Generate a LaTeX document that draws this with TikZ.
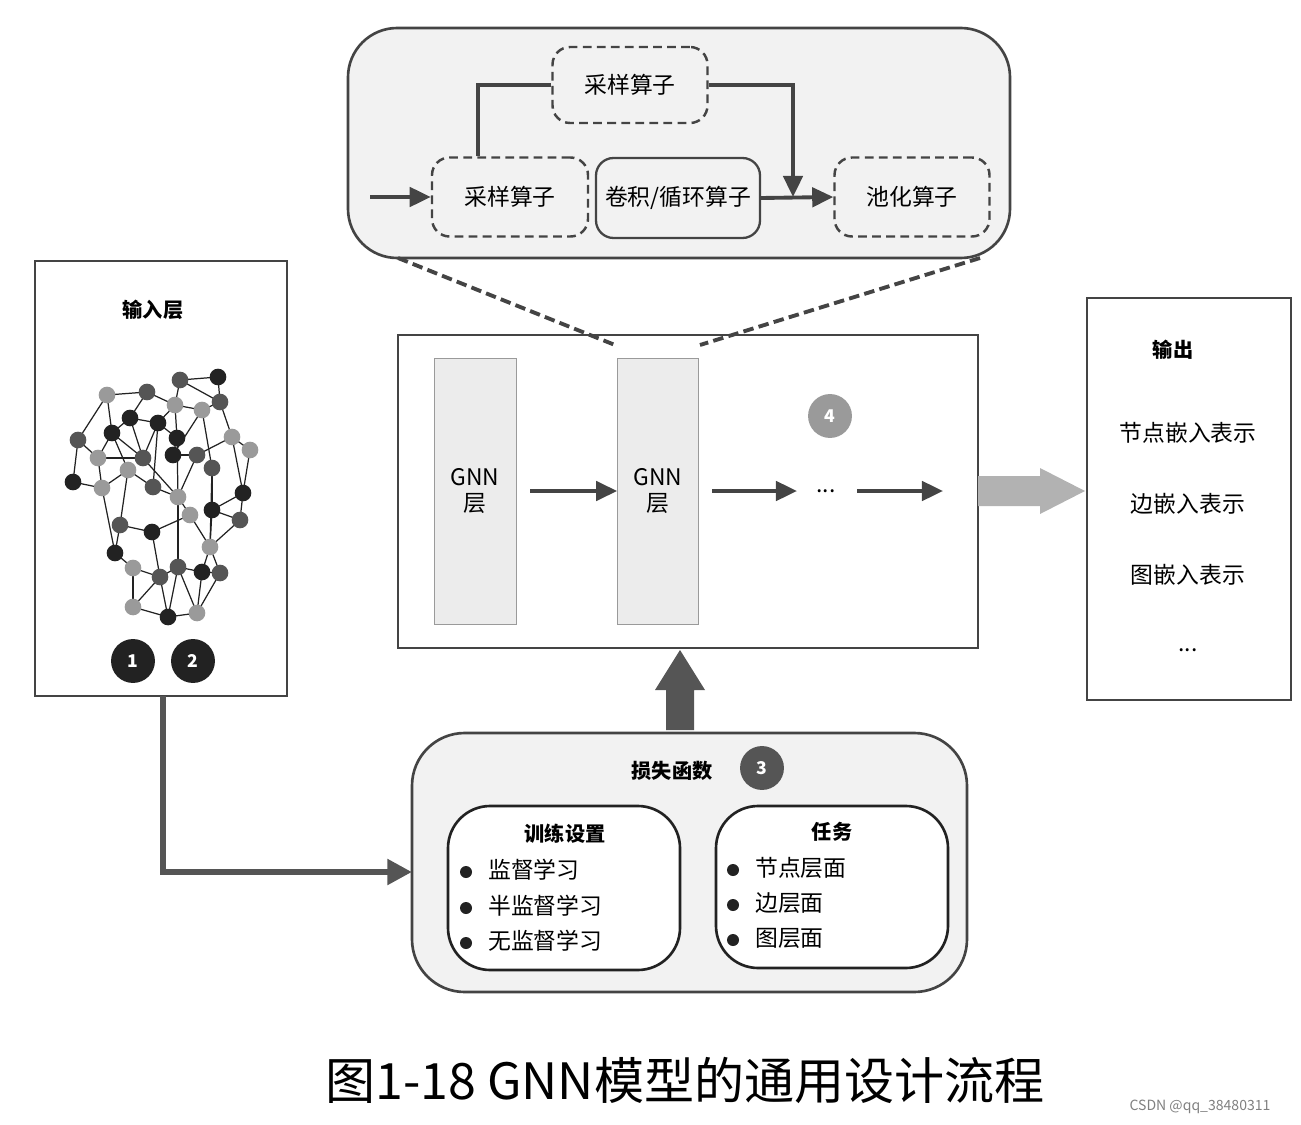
\documentclass[tikz,border=0pt]{standalone}
\usepackage{fontspec}
\setmainfont{Noto Sans CJK SC}
\usetikzlibrary{arrows.meta}
\definecolor{dk}{HTML}{222222}
\definecolor{md}{HTML}{555555}
\definecolor{lt}{HTML}{9A9A9A}
\definecolor{bx}{HTML}{F2F2F2}
\definecolor{ln}{HTML}{444444}
\begin{document}
\begin{tikzpicture}[x=0.02cm,y=-0.02cm,
  lbl/.style={font=\fontsize{13}{15}\selectfont},
  ttl/.style={font=\bfseries\fontsize{11.5}{14}\selectfont},
  dbox/.style={draw=ln,dash pattern=on 5pt off 3pt,line width=1.4pt,rounded corners=10pt,fill=bx},
  arr/.style={draw=ln,line width=2.2pt,-{Triangle[length=12pt,width=11pt]}},
  gn/.style={circle,inner sep=0pt,minimum size=9.5pt},
  ge/.style={draw=dk,line width=0.7pt},
  num/.style={circle,inner sep=0pt,minimum size=25pt,text=white,font=\bfseries\fontsize{10}{12}\selectfont}]
\useasboundingbox (0,0) rectangle (1301,1125);
% top box
\draw[draw=ln,line width=1.5pt,rounded corners=28pt,fill=bx] (348,28) rectangle (1010,258);
\coordinate (tl) at (398,258); \coordinate (tr) at (980,258);
\node[dbox,minimum width=155*0.02cm,minimum height=76*0.02cm,lbl] (s1) at (630,85) {采样算子};
\node[dbox,minimum width=156*0.02cm,minimum height=79*0.02cm,lbl] (s2) at (510,197) {采样算子};
\node[draw=ln,line width=1.3pt,rounded corners=10pt,fill=bx,minimum width=164*0.02cm,minimum height=80*0.02cm,lbl,inner sep=0pt] (cv) at (678,198) {卷积/循环算子};
\node[dbox,minimum width=155*0.02cm,minimum height=79*0.02cm,lbl] (pl) at (912,197) {池化算子};
\coordinate (in0) at (370,197);
\draw[arr] (in0) -- (s2.west);
\draw[arr] (cv.east) -- (pl.west);
\draw[draw=ln,line width=2.2pt] (s2.north -| 478,0) |- (s1.west);
\draw[arr] (s1.east) -| (793,197);
% middle box
\draw[draw=ln,line width=1.3pt] (398,335) rectangle (978,648);
\coordinate (ml) at (615,345); \coordinate (mr) at (700,345);
\draw[draw=ln,line width=2.2pt,dash pattern=on 6pt off 3pt] (tl) -- (ml) (tr) -- (mr);
\node[draw=lt,fill=gray!15,minimum width=82*0.02cm,minimum height=266*0.02cm,inner sep=0pt,align=center,lbl] (g1) at (475,491) {GNN\\层};
\node[draw=lt,fill=gray!15,minimum width=81*0.02cm,minimum height=266*0.02cm,inner sep=0pt,align=center,lbl] (g2) at (658,491) {GNN\\层};
\node[lbl] (dots) at (826,491) {...};
\coordinate (a1) at (530,491); \coordinate (a3) at (712,491);\coordinate (a4) at (797,491);
\coordinate (a5) at (857,491);\coordinate (a6) at (943,491);
\draw[arr] (a1) -- (g2.west);
\draw[arr] (a3) -- (a4);
\draw[arr] (a5) -- (a6);
\node[num,fill=lt] (n4) at (830,416) {4};
% input box
\draw[draw=ln,line width=1.3pt] (35,261) rectangle (287,696);
\node[ttl] (inl) at (153,310) {输入层};
\node[num,fill=dk] (n1) at (133,661) {1};
\node[num,fill=dk] (n2) at (193,661) {2};
\foreach \n/\x/\y in {a/107/395,b/147/392,c/180/380,d/218/377,e/175/405,f/202/410,g/220/402,h/130/418,i/158/423,j/78/440,k/112/433,l/177/438,m/232/437,n/250/450,o/98/458,p/143/458,q/173/455,r/197/455,s/128/470,t/212/468,u/73/482,v/102/488,w/153/487,x/178/497,y/243/493,z/212/510,A/190/515,B/240/520,C/120/525,D/152/532,E/210/547,F/115/553,G/133/568,H/178/567,I/160/577,J/202/572,K/220/573,L/133/607,M/168/617,N/197/613}
  \coordinate (\n) at (\x,\y);
\foreach \p/\q in {a/b,b/e,c/d,c/e,d/g,e/f,f/g,a/k,a/j,h/b,h/i,h/k,i/e,i/l,i/w,f/t,g/m,m/n,m/y,n/y,j/o,j/u,k/o,k/s,k/p,o/v,u/v,l/q,q/r,r/x,r/m,p/x,p/i,s/w,s/C,w/x,x/A,t/z,z/y,z/B,y/B,B/E,E/A,E/K,E/J,C/D,D/A,C/F,F/G,G/I,G/L,I/H,H/J,J/K,I/L,I/M,H/M,H/N,J/N,K/N,L/M,M/N,v/F,x/H,o/p,l/x,f/q,t/E,z/E,e/l,c/g,h/p,s/v,D/I}
  \draw[ge] (\p) -- (\q);
\foreach \n/\c in {a/lt,b/md,c/md,d/dk,e/lt,f/lt,g/md,h/dk,i/dk,j/md,k/dk,l/dk,m/lt,n/lt,o/lt,p/md,q/dk,r/md,s/lt,t/md,u/dk,v/lt,w/md,x/lt,y/dk,z/dk,A/lt,B/md,C/md,D/dk,E/lt,F/dk,G/lt,H/md,I/md,J/dk,K/md,L/lt,M/dk,N/lt}
  \node[gn,fill=\c] (v\n) at (\n) {};
% output
\draw[draw=ln,line width=1.3pt] (1087,298) rectangle (1291,700);
\node[ttl] (ot) at (1173,350) {输出};
\node[lbl] (o1) at (1188,433) {节点嵌入表示};
\node[lbl] (o2) at (1188,504) {边嵌入表示};
\node[lbl] (o3) at (1188,575) {图嵌入表示};
\node[lbl] (o4) at (1188,650) {...};
\draw[draw=none,fill=gray!60] (978,476) -- (1040,476) -- (1040,468) -- (1085,491) -- (1040,514) -- (1040,506) -- (978,506) -- cycle;
% loss box
\draw[draw=ln,line width=1.5pt,rounded corners=30pt,fill=bx] (412,733) rectangle (967,992);
\draw[draw=none,fill=md] (666,730) -- (666,690) -- (655,690) -- (680,650) -- (705,690) -- (694,690) -- (694,730) -- cycle;
\node[ttl] (ls) at (672,771) {损失函数};
\node[num,fill=md] (n3) at (762,768) {3};
\draw[draw=dk,line width=1.5pt,rounded corners=24pt,fill=white] (448,806) rectangle (680,970);
\draw[draw=dk,line width=1.5pt,rounded corners=24pt,fill=white] (716,806) rectangle (948,968);
\node[ttl] (t1) at (565,834) {训练设置};
\node[ttl] (t2) at (832,832) {任务};
\foreach \t/\y [count=\i] in {监督学习/872,半监督学习/908,无监督学习/943}{
  \fill[dk] (466,\y) circle (6);
  \node[lbl,anchor=west] (tr\i) at (482,\y-2) {\t};}
\foreach \t/\y [count=\i] in {节点层面/870,边层面/905,图层面/940}{
  \fill[dk] (733,\y) circle (6);
  \node[lbl,anchor=west] (tk\i) at (749,\y-2) {\t};}
\coordinate (ib) at (163,696); \coordinate (lb) at (412,872);
\draw[draw=md,line width=3.5pt,-{Triangle[length=14pt,width=14pt]}] (ib) |- (lb);
% caption
\node[font=\fontsize{28.5}{34}\selectfont] (cap) at (685,1080) {图1-18 GNN模型的通用设计流程};
\node[font=\fontsize{8}{10}\selectfont,text=gray] (wm) at (1200,1107) {CSDN @qq\_38480311};
\end{tikzpicture}
\end{document}
